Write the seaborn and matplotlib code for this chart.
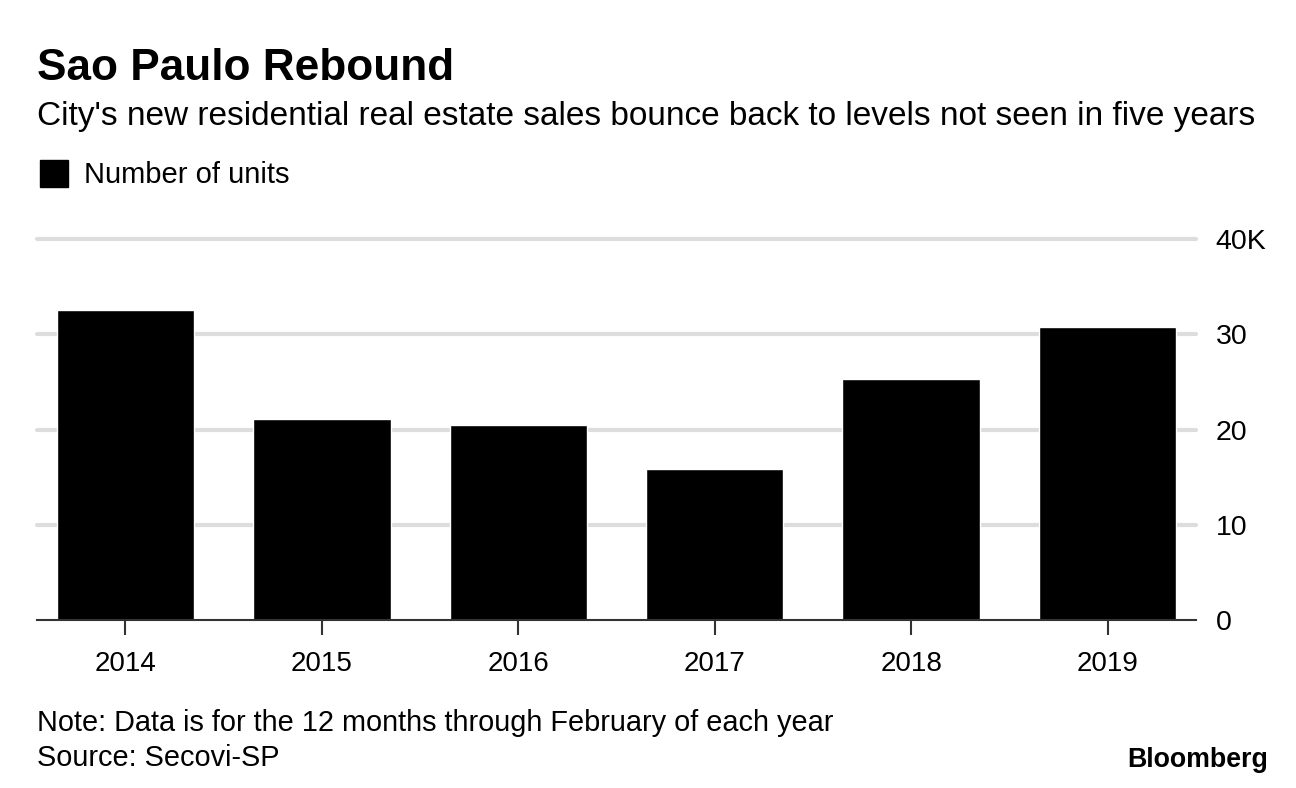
import matplotlib
matplotlib.use("Agg")
import matplotlib.pyplot as plt
import seaborn as sns
import pandas as pd

# data (thousands of units)
years = ["2014", "2015", "2016", "2017", "2018", "2019"]
units = [32.5, 21.1, 20.5, 15.9, 25.3, 30.8]
y_ticks = [0, 10, 20, 30, 40]
y_tick_labels = ["0", "10", "20", "30", "40K"]

df = pd.DataFrame({"year": years, "units": units})

sns.set_style("white")
plt.rcParams["font.family"] = ["Liberation Sans", "DejaVu Sans"]
plt.rcParams["text.color"] = "black"
plt.rcParams["xtick.color"] = "black"
plt.rcParams["ytick.color"] = "black"

W, H = 1296, 788
fig = plt.figure(figsize=(W / 100, H / 100), dpi=100)
ax = fig.add_axes([37 / W, 1 - 620 / H, (1196 - 37) / W, (620 - 239) / H])

sns.barplot(data=df, x="year", y="units", color="black", width=0.7,
            saturation=1, ax=ax, zorder=3)

ax.set_xlim(-0.45, len(years) - 0.55)
ax.set_ylim(0, 40)
ax.set_yticks(y_ticks)
ax.set_yticklabels(y_tick_labels)
ax.yaxis.tick_right()
ax.tick_params(axis="y", length=0, pad=14, labelsize=20.5, labelcolor="black")
ax.tick_params(axis="x", bottom=True, length=11, width=1.5, color="#333333", pad=11,
               labelsize=20, labelcolor="black")
ax.set_xlabel("")
ax.set_ylabel("")

for t in y_ticks[1:]:
    ax.axhline(t, color="#dddddd", lw=3, zorder=1, clip_on=False)

for side in ["top", "right", "left"]:
    ax.spines[side].set_visible(False)
ax.spines["bottom"].set_color("#333333")
ax.spines["bottom"].set_linewidth(1.5)
ax.spines["bottom"].set_zorder(4)


def put(x, y, s, **kw):
    fig.text(x / W, 1 - y / H, s, va="baseline", **kw)


put(37, 80, "Sao Paulo Rebound", fontsize=31.8, fontweight="bold")
put(37, 125, "City's new residential real estate sales bounce back to levels not seen in five years",
    fontsize=24)

# legend
fig.patches.append(plt.Rectangle((40 / W, 1 - 187 / H), 28 / W, 27 / H,
                                 transform=fig.transFigure, color="black"))
put(84, 183, "Number of units", fontsize=21)

put(37, 731, "Note: Data is for the 12 months through February of each year", fontsize=20.8)
put(37, 766, "Source: Secovi-SP", fontsize=20.8)
put(1268, 767, "Bloomberg", fontsize=19.3, fontweight="bold", ha="right")

fig.savefig("out.png", dpi=100)
